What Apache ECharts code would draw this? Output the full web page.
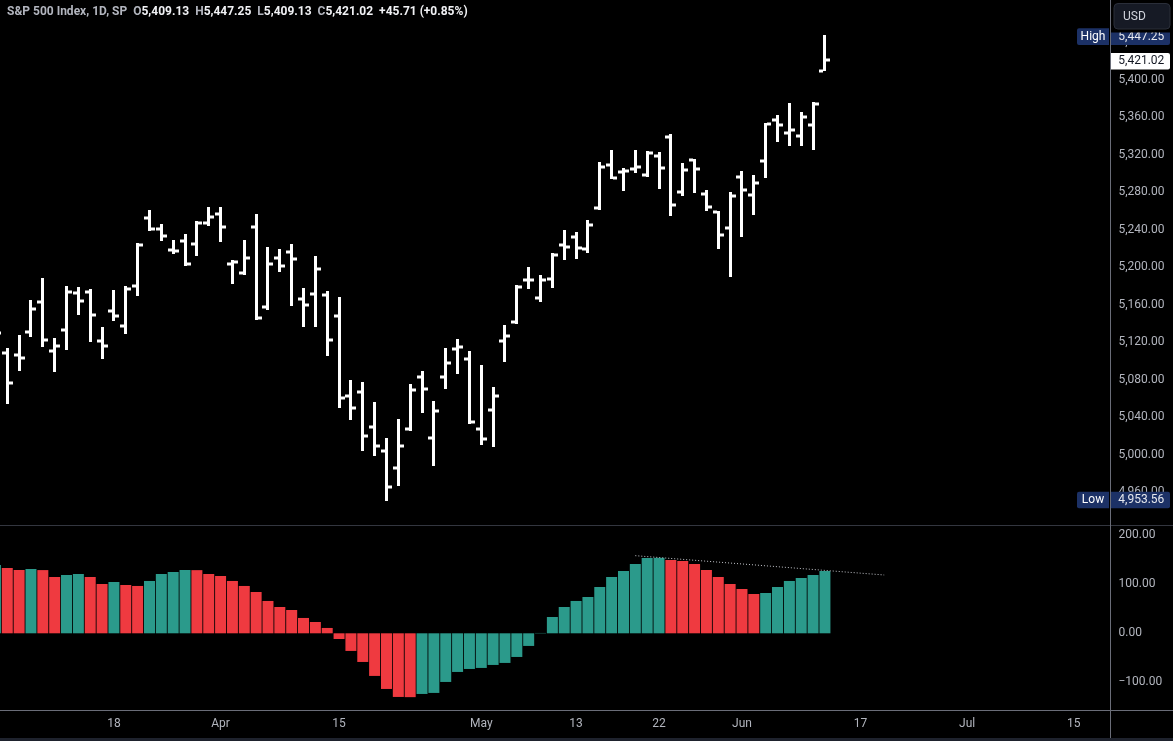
<!DOCTYPE html>
<html>
<head>
<meta charset="utf-8">
<title>S&amp;P 500 Index, 1D</title>
<style>
  html, body { margin: 0; padding: 0; background: #000; overflow: hidden; }
  #chart { width: 1173px; height: 741px; }
</style>
<script src="https://cdn.jsdelivr.net/npm/echarts@6/dist/echarts.min.js"></script>
</head>
<body>
<div id="chart"></div>
<script>
// ─── Data ─────────────────────────────────────────────────────────────────

const sessions = [
  '03-04', '03-05', '03-06', '03-07', '03-08', '03-11', '03-12', '03-13', '03-14', '03-15',
  '03-18', '03-19', '03-20', '03-21', '03-22', '03-25', '03-26', '03-27', '03-28',
  '04-01', '04-02', '04-03', '04-04', '04-05', '04-08', '04-09', '04-10', '04-11', '04-12',
  '04-15', '04-16', '04-17', '04-18', '04-19', '04-22', '04-23', '04-24', '04-25', '04-26',
  '04-29', '04-30', '05-01', '05-02', '05-03', '05-06', '05-07', '05-08', '05-09', '05-10',
  '05-13', '05-14', '05-15', '05-16', '05-17', '05-20', '05-21', '05-22', '05-23', '05-24',
  '05-28', '05-29', '05-30', '05-31', '06-03', '06-04', '06-05', '06-06', '06-07',
  '06-10', '06-11', '06-12', '06-13', '06-14', '06-17', '06-18', '06-20', '06-21',
  '06-24', '06-25', '06-26', '06-27', '06-28', '07-01', '07-02', '07-03', '07-05',
  '07-08', '07-09', '07-10', '07-11', '07-12', '07-15', '07-16', '07-17', '07-18'
];

const tickLabels = {
  '03-18': '18', '04-01': 'Apr', '04-15': '15', '05-01': 'May', '05-13': '13',
  '05-22': '22', '06-03': 'Jun', '06-17': '17', '07-01': 'Jul', '07-15': '15'
};

const opens = [
  5131.0, 5108.2, 5106.1, 5130.6, 5162.6, 5110.3, 5132.7, 5172.1, 5173.2, 5121.0,
  5153.0, 5137.0, 5179.6, 5252.1, 5240.3, 5218.0, 5227.6, 5224.4, 5246.7, 5256.3,
  5203.1, 5193.5, 5242.5, 5157.2, 5209.4, 5215.8, 5165.8, 5171.1, 5170.0, 5147.6,
  5062.4, 5066.7, 5029.4, 5003.8, 4985.7, 5027.2, 5082.6, 5017.6, 5082.6, 5112.5,
  5101.8, 5027.2, 5047.5, 5121.0, 5141.2, 5186.0, 5166.8, 5187.1, 5223.3, 5231.8,
  5219.0, 5262.8, 5308.5, 5301.1, 5304.3, 5297.9, 5318.1, 5338.7, 5279.8, 5313.9,
  5277.7, 5258.5, 5241.4, 5295.7, 5276.6, 5312.8, 5356.8, 5343.0, 5339.4, 5351.2,
  5409.13
];
const highs = [
  5149.7, 5113.5, 5127.8, 5165.0, 5188.5, 5124.6, 5180.0, 5178.9, 5176.8, 5136.3,
  5175.7, 5180.0, 5225.8, 5260.9, 5246.0, 5229.0, 5235.4, 5249.2, 5264.1, 5264.1,
  5207.3, 5229.0, 5256.7, 5221.5, 5219.4, 5224.7, 5177.8, 5211.9, 5174.6, 5168.2,
  5079.8, 5077.7, 5056.4, 5018.0, 5038.2, 5075.5, 5089.4, 5057.4, 5113.9, 5123.5,
  5110.7, 5095.8, 5072.3, 5138.4, 5181.0, 5200.2, 5191.7, 5215.1, 5239.6, 5237.5,
  5250.3, 5312.1, 5324.9, 5305.7, 5324.9, 5323.8, 5322.8, 5341.9, 5311.0, 5315.3,
  5282.3, 5259.9, 5280.1, 5302.5, 5298.2, 5353.6, 5362.2, 5374.9, 5365.4, 5376.0,
  5447.25
];
const lows = [
  5127.2, 5054.6, 5089.4, 5125.6, 5115.0, 5088.3, 5111.8, 5149.1, 5120.3, 5102.2,
  5142.7, 5128.8, 5169.3, 5238.6, 5227.9, 5214.1, 5201.3, 5211.9, 5243.9, 5226.8,
  5182.1, 5191.7, 5143.7, 5154.4, 5194.9, 5158.7, 5136.3, 5136.3, 5105.4, 5050.0,
  5037.2, 5004.2, 4998.8, 4950.9, 4966.9, 5025.5, 5044.6, 4988.2, 5070.2, 5086.2,
  5032.9, 5010.5, 5008.4, 5099.0, 5139.5, 5176.8, 5162.9, 5177.8, 5207.7, 5208.7,
  5215.1, 5261.0, 5294.0, 5281.2, 5300.4, 5296.1, 5283.3, 5254.6, 5275.9, 5279.1,
  5259.9, 5219.4, 5189.5, 5232.2, 5255.6, 5295.0, 5333.4, 5329.1, 5329.1, 5324.9,
  5409.13
];
const closes = [
  5129.5, 5076.3, 5102.9, 5155.1, 5122.1, 5115.7, 5173.2, 5163.6, 5148.7, 5115.7,
  5147.6, 5176.8, 5223.7, 5240.3, 5232.9, 5216.9, 5203.1, 5246.7, 5253.1, 5242.5,
  5205.2, 5209.4, 5145.5, 5203.1, 5200.9, 5208.4, 5159.4, 5197.7, 5122.1, 5060.3,
  5049.6, 5019.8, 5009.1, 4965.4, 5009.1, 5068.8, 5069.9, 5046.4, 5097.6, 5114.6,
  5034.7, 5016.6, 5062.4, 5126.3, 5178.5, 5186.4, 5186.0, 5212.6, 5221.2, 5220.1,
  5244.6, 5306.4, 5295.4, 5302.2, 5306.4, 5321.3, 5305.3, 5265.9, 5303.2, 5304.3,
  5264.5, 5233.9, 5275.9, 5281.9, 5289.7, 5352.2, 5351.2, 5346.2, 5359.7, 5373.5,
  5421.02
];

const oscillator = [
  139.4, 133.3, 129.2, 131.2, 129.0, 114.9, 119.0, 121.0, 114.9, 100.6,
  104.7, 98.6, 96.6, 106.8, 121.0, 125.1, 129.2, 128.9, 121.0, 117.0,
  106.8, 96.6, 84.3, 66.0, 53.7, 47.6, 31.3, 23.1, 10.9, -11.6,
  -36.0, -58.5, -87.0, -113.6, -129.9, -130.3, -123.8, -121.7, -99.3, -78.9,
  -72.8, -70.7, -64.6, -60.5, -48.3, -25.8, 0.7, 33.3, 53.7, 66.0,
  74.1, 94.5, 114.9, 127.2, 141.4, 153.7, 154.0, 149.6, 147.6, 141.4,
  129.2, 114.9, 100.6, 90.4, 80.2, 82.3, 94.5, 106.8, 112.9, 119.0,
  127.2
];

const trendDates = ['05-20', '06-20'];
const trendValues = [158.4, 119.0];

const tagNames = ['High', 'Low', ''];
const tagValues = [5447.25, 4953.56, 5421.02];

// ─── Styles ───────────────────────────────────────────────────────────────

const FONT = 'Roboto, sans-serif';
const GREY = '#b2b5be';
const NAVY = '#1c3166';
const TEAL = '#2b9a8b';
const RED = '#ef3a40';

const BAND = 11.85;           // width of one session in px
const GRID_LEFT = -10.5;      // first session sits off the left edge
const GRID_WIDTH = BAND * sessions.length;
const AXIS_X = 1110.5;        // price scale border
const AXIS_OFFSET = AXIS_X - (GRID_LEFT + GRID_WIDTH);

const ohlcData = opens.map((o, i) => [i, o, highs[i], lows[i], closes[i]]);

// ─── Marks ────────────────────────────────────────────────────────────────

function renderOhlc(params, api) {
  const cx = api.coord([api.value(0), 0])[0];
  const x = Math.round(cx - 1.5);
  const yOf = i => Math.round(api.coord([0, api.value(i)])[1]);
  const top = yOf(2);
  const bottom = yOf(3);
  const white = { fill: '#fff' };
  return {
    type: 'group',
    children: [
      { type: 'rect', shape: { x: x, y: top, width: 3, height: bottom - top }, style: white },
      { type: 'rect', shape: { x: x - 4, y: yOf(1) - 1.5, width: 4, height: 3 }, style: white },
      { type: 'rect', shape: { x: x + 3, y: yOf(4) - 1.5, width: 4, height: 3 }, style: white }
    ]
  };
}

function formatPrice(v) {
  return v.toLocaleString('en-US', { minimumFractionDigits: 2, maximumFractionDigits: 2 });
}

function renderTag(params, api) {
  const i = params.dataIndex;
  const y = api.coord([0, api.value(0)])[1] + 1.5;
  const isClose = tagNames[i] === '';
  const box = { fill: isClose ? '#fff' : NAVY };
  const children = [
    { type: 'rect', shape: { x: AXIS_X - 0.5, y: y - 8.3, width: 60, height: 16.6, r: [0, 2, 2, 0] }, style: box },
    {
      type: 'text',
      style: {
        x: AXIS_X + 7.8, y: y, text: formatPrice(api.value(0)), font: '12px ' + FONT,
        fill: isClose ? '#131722' : '#e6e8ee', verticalAlign: 'middle'
      }
    }
  ];
  if (!isClose) {
    children.push(
      { type: 'rect', shape: { x: AXIS_X - 33.5, y: y - 8.3, width: 32, height: 16.6, r: [2, 0, 0, 2] }, style: box },
      {
        type: 'text',
        style: {
          x: AXIS_X - 17.5, y: y, text: tagNames[i], font: '12px ' + FONT,
          fill: '#fff', align: 'center', verticalAlign: 'middle'
        }
      }
    );
  }
  return { type: 'group', children };
}

// ─── Header ───────────────────────────────────────────────────────────────

const headerText = [
  '{n|S&P 500 Index, 1D, SP}',
  '{k|  O}{v|5,409.13}',
  '{k|  H}{v|5,447.25}',
  '{k|  L}{v|5,409.13}',
  '{k|  C}{v|5,421.02}',
  '{v|  +45.71 (+0.85%)}'
].join('');

// ─── Chart ────────────────────────────────────────────────────────────────

const chart = echarts.init(document.getElementById('chart'));

chart.setOption({
  backgroundColor: '#000',
  animation: false,
  title: {
    left: 7, top: 6, padding: 0,
    text: headerText,
    textStyle: {
      rich: {
        n: { fontFamily: FONT, fontSize: 12, color: GREY },
        k: { fontFamily: FONT, fontSize: 12, color: GREY },
        v: { fontFamily: FONT, fontSize: 12, color: '#f0f1f4' }
      }
    }
  },
  grid: [
    { left: GRID_LEFT, width: GRID_WIDTH, top: 4.42, height: 525.56, outerBoundsMode: 'none' },
    { left: GRID_LEFT, width: GRID_WIDTH, top: 535.3, height: 196, outerBoundsMode: 'none' }
  ],
  xAxis: [
    { type: 'category', gridIndex: 0, data: sessions, show: false },
    {
      type: 'category',
      gridIndex: 1,
      data: sessions,
      offset: -20.8,
      axisLine: { show: false },
      axisTick: { show: false },
      axisLabel: {
        interval: (index, value) => value in tickLabels,
        formatter: value => tickLabels[value],
        color: GREY, fontFamily: FONT, fontSize: 12, margin: 7
      }
    }
  ],
  yAxis: [
    {
      type: 'value',
      gridIndex: 0,
      position: 'right',
      offset: AXIS_OFFSET,
      min: 4920, max: 5480, interval: 40,
      splitLine: { show: false },
      axisLine: { show: false },
      axisTick: { show: false },
      axisLabel: {
        showMinLabel: false, showMaxLabel: false,
        formatter: formatPrice,
        color: GREY, fontFamily: FONT, fontSize: 12, margin: 8
      }
    },
    {
      type: 'value',
      gridIndex: 1,
      position: 'right',
      offset: AXIS_OFFSET,
      min: -200, max: 200, interval: 100,
      splitLine: { show: false },
      axisLine: { show: false },
      axisTick: { show: false },
      axisLabel: {
        showMinLabel: false,
        formatter: v => v.toFixed(2).replace('-', '\u2212'),
        color: GREY, fontFamily: FONT, fontSize: 12, margin: 8
      }
    }
  ],
  series: [
    {
      type: 'custom',
      name: 'S&P 500',
      xAxisIndex: 0, yAxisIndex: 0,
      clip: false,
      encode: { x: 0, y: [1, 2, 3, 4] },
      data: ohlcData,
      renderItem: renderOhlc
    },
    {
      type: 'custom',
      name: 'tags',
      xAxisIndex: 0, yAxisIndex: 0,
      coordinateSystem: 'cartesian2d',
      clip: false,
      z: 5,
      encode: { y: 0 },
      data: tagValues.map(v => [v]),
      renderItem: renderTag
    },
    {
      type: 'bar',
      name: 'Oscillator',
      xAxisIndex: 1, yAxisIndex: 1,
      barWidth: 11,
      data: oscillator.map((v, i) => ({
        value: v,
        itemStyle: { color: i === 0 || v >= oscillator[i - 1] ? TEAL : RED }
      }))
    },
    {
      type: 'line',
      name: 'Trend',
      xAxisIndex: 1, yAxisIndex: 1,
      symbol: 'none',
      silent: true,
      z: 4,
      lineStyle: { color: '#c4c6cc', width: 1, type: [1, 2] },
      data: trendDates.map((d, i) => [d, trendValues[i]])
    }
  ],
  graphic: [
    // chrome: pane separators, price scale border, footer strip, currency button
    { type: 'rect', z: 50, shape: { x: 0, y: 525, width: 1173, height: 1 }, style: { fill: '#33363f' } },
    { type: 'rect', z: 50, shape: { x: 0, y: 710, width: 1173, height: 1 }, style: { fill: '#6a6d78' } },
    { type: 'rect', z: 50, shape: { x: 1110, y: 0, width: 1, height: 738 }, style: { fill: '#6a6d78' } },
    { type: 'rect', z: 50, shape: { x: 0, y: 738, width: 1173, height: 3 }, style: { fill: '#1e222d' } },
    { type: 'rect', z: 50, shape: { x: 1111, y: 0, width: 62, height: 32.5 }, style: { fill: '#000' } },
    {
      type: 'rect', z: 51,
      shape: { x: 1114, y: 3.5, width: 56, height: 25.5, r: 4 },
      style: { fill: '#161a25', stroke: '#2a2e39', lineWidth: 1 }
    },
    {
      type: 'text', z: 52,
      style: { x: 1123, y: 16.5, text: 'USD', font: '12px ' + FONT, fill: '#d1d4dc', verticalAlign: 'middle' }
    }
  ]
});
</script>
</body>
</html>
